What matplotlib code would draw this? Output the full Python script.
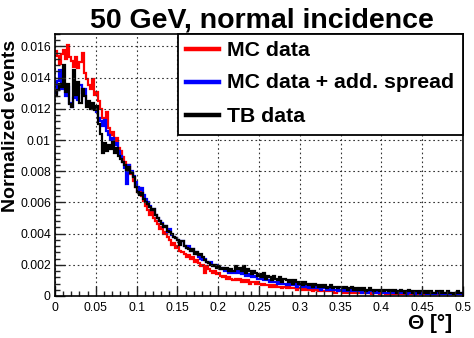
import numpy as np
import matplotlib
matplotlib.use("Agg")
import matplotlib.pyplot as plt
from matplotlib.patches import Rectangle
from matplotlib.lines import Line2D
from matplotlib.ticker import MultipleLocator

# Normalized polar-angle distributions, 200 bins over 0 < theta < 0.5 deg
theta_range = (0.0, 0.5)

mc_data = [
    0.0157, 0.0154, 0.0149, 0.0155, 0.0158, 0.0152, 0.0161, 0.0153, 0.0151, 0.0147,
    0.0153, 0.0146, 0.0150, 0.0156, 0.0143, 0.0139, 0.0135, 0.0133, 0.0139, 0.0129,
    0.0131, 0.0125, 0.0120, 0.0114, 0.0110, 0.0118, 0.0108, 0.0103, 0.0105, 0.0099,
    0.0101, 0.0095, 0.0093, 0.0089, 0.0086, 0.0082, 0.0084, 0.0078, 0.0074, 0.0070,
    0.0067, 0.0069, 0.0064, 0.0061, 0.0058, 0.0055, 0.0052, 0.0054, 0.0050, 0.0048,
    0.0046, 0.0043, 0.0044, 0.0040, 0.0041, 0.0038, 0.0036, 0.0033, 0.0034, 0.0031,
    0.0032, 0.0029, 0.0028, 0.0027, 0.0025, 0.0026, 0.0024, 0.0025, 0.0022, 0.0023,
    0.0021, 0.0019, 0.0020, 0.0015, 0.0019, 0.0017, 0.0016, 0.0015, 0.0016, 0.0014,
    0.0015, 0.0013, 0.0012, 0.0013, 0.0011, 0.0012, 0.0011, 0.0010, 0.0011, 0.0010,
    0.0011, 0.0009, 0.0010, 0.0009, 0.0010, 0.0008, 0.0009, 0.0009, 0.0008, 0.0009,
    0.0008, 0.0007, 0.0008, 0.0007, 0.0007, 0.0006, 0.0007, 0.0006, 0.0007, 0.0006,
    0.0006, 0.0005, 0.0006, 0.0005, 0.0006, 0.0005, 0.0005, 0.0005, 0.0004, 0.0005,
    0.0005, 0.0004, 0.0005, 0.0004, 0.0004, 0.0004, 0.0003, 0.0004, 0.0004, 0.0003,
    0.0004, 0.0003, 0.0003, 0.0003, 0.0004, 0.0003, 0.0003, 0.0002, 0.0003, 0.0003,
    0.0003, 0.0002, 0.0003, 0.0002, 0.0003, 0.0002, 0.0002, 0.0003, 0.0002, 0.0002,
    0.0002, 0.0002, 0.0003, 0.0002, 0.0002, 0.0001, 0.0002, 0.0002, 0.0002, 0.0001,
    0.0002, 0.0002, 0.0001, 0.0002, 0.0001, 0.0002, 0.0001, 0.0001, 0.0002, 0.0001,
    0.0001, 0.0002, 0.0001, 0.0001, 0.0001, 0.0002, 0.0001, 0.0001, 0.0001, 0.0001,
    0.0001, 0.0001, 0.0002, 0.0001, 0.0001, 0.0001, 0.0001, 0.0001, 0.0001, 0.0001,
    0.0001, 0.0001, 0.0001, 0.0001, 0.0001, 0.0001, 0.0001, 0.0001, 0.0001, 0.0001,
]

mc_spread = [
    0.0130, 0.0138, 0.0145, 0.0133, 0.0136, 0.0128, 0.0134, 0.0124, 0.0121, 0.0127,
    0.0132, 0.0126, 0.0135, 0.0130, 0.0133, 0.0124, 0.0122, 0.0123, 0.0120, 0.0121,
    0.0118, 0.0114, 0.0112, 0.0109, 0.0113, 0.0106, 0.0103, 0.0100, 0.0101, 0.0097,
    0.0098, 0.0093, 0.0090, 0.0086, 0.0082, 0.0072, 0.0084, 0.0080, 0.0077, 0.0073,
    0.0070, 0.0068, 0.0069, 0.0065, 0.0062, 0.0060, 0.0058, 0.0055, 0.0056, 0.0052,
    0.0050, 0.0048, 0.0047, 0.0044, 0.0045, 0.0041, 0.0043, 0.0039, 0.0038, 0.0037,
    0.0036, 0.0034, 0.0035, 0.0032, 0.0031, 0.0032, 0.0029, 0.0030, 0.0027, 0.0028,
    0.0025, 0.0024, 0.0023, 0.0024, 0.0022, 0.0021, 0.0022, 0.0020, 0.0019, 0.0020,
    0.0018, 0.0017, 0.0018, 0.0016, 0.0017, 0.0015, 0.0016, 0.0015, 0.0016, 0.0015,
    0.0016, 0.0014, 0.0015, 0.0013, 0.0014, 0.0013, 0.0012, 0.0013, 0.0012, 0.0011,
    0.0011, 0.0012, 0.0010, 0.0011, 0.0010, 0.0009, 0.0010, 0.0009, 0.0009, 0.0008,
    0.0009, 0.0008, 0.0008, 0.0007, 0.0008, 0.0007, 0.0007, 0.0008, 0.0006, 0.0007,
    0.0007, 0.0006, 0.0006, 0.0007, 0.0005, 0.0006, 0.0005, 0.0006, 0.0005, 0.0005,
    0.0004, 0.0005, 0.0005, 0.0004, 0.0005, 0.0004, 0.0004, 0.0004, 0.0003, 0.0004,
    0.0004, 0.0003, 0.0004, 0.0003, 0.0004, 0.0003, 0.0003, 0.0004, 0.0003, 0.0003,
    0.0002, 0.0003, 0.0003, 0.0002, 0.0003, 0.0003, 0.0002, 0.0003, 0.0002, 0.0003,
    0.0003, 0.0002, 0.0002, 0.0003, 0.0002, 0.0002, 0.0002, 0.0003, 0.0002, 0.0002,
    0.0002, 0.0002, 0.0001, 0.0002, 0.0002, 0.0002, 0.0001, 0.0002, 0.0002, 0.0001,
    0.0002, 0.0002, 0.0001, 0.0002, 0.0001, 0.0002, 0.0001, 0.0002, 0.0001, 0.0001,
    0.0002, 0.0001, 0.0001, 0.0002, 0.0001, 0.0001, 0.0001, 0.0002, 0.0001, 0.0002,
]

tb_data = [
    0.0128, 0.0132, 0.0136, 0.0134, 0.0148, 0.0131, 0.0136, 0.0123, 0.0121, 0.0145,
    0.0129, 0.0137, 0.0124, 0.0133, 0.0128, 0.0121, 0.0125, 0.0120, 0.0124, 0.0119,
    0.0122, 0.0110, 0.0104, 0.0092, 0.0098, 0.0093, 0.0097, 0.0094, 0.0099, 0.0092,
    0.0095, 0.0090, 0.0088, 0.0086, 0.0084, 0.0081, 0.0083, 0.0079, 0.0076, 0.0070,
    0.0067, 0.0065, 0.0066, 0.0062, 0.0060, 0.0059, 0.0057, 0.0055, 0.0056, 0.0052,
    0.0050, 0.0048, 0.0046, 0.0044, 0.0045, 0.0042, 0.0041, 0.0040, 0.0038, 0.0037,
    0.0036, 0.0033, 0.0035, 0.0032, 0.0031, 0.0030, 0.0029, 0.0030, 0.0027, 0.0028,
    0.0026, 0.0027, 0.0025, 0.0023, 0.0022, 0.0021, 0.0020, 0.0019, 0.0020, 0.0018,
    0.0019, 0.0017, 0.0018, 0.0017, 0.0018, 0.0016, 0.0017, 0.0016, 0.0019, 0.0017,
    0.0018, 0.0016, 0.0019, 0.0015, 0.0017, 0.0016, 0.0014, 0.0016, 0.0015, 0.0013,
    0.0014, 0.0012, 0.0015, 0.0011, 0.0013, 0.0012, 0.0010, 0.0013, 0.0011, 0.0010,
    0.0012, 0.0009, 0.0011, 0.0010, 0.0009, 0.0010, 0.0008, 0.0010, 0.0009, 0.0008,
    0.0009, 0.0007, 0.0009, 0.0008, 0.0007, 0.0008, 0.0006, 0.0008, 0.0007, 0.0006,
    0.0007, 0.0006, 0.0007, 0.0005, 0.0006, 0.0007, 0.0005, 0.0006, 0.0005, 0.0006,
    0.0006, 0.0005, 0.0006, 0.0004, 0.0005, 0.0006, 0.0004, 0.0005, 0.0004, 0.0005,
    0.0004, 0.0005, 0.0003, 0.0004, 0.0005, 0.0004, 0.0003, 0.0004, 0.0004, 0.0003,
    0.0004, 0.0003, 0.0004, 0.0003, 0.0004, 0.0003, 0.0004, 0.0002, 0.0003, 0.0004,
    0.0003, 0.0002, 0.0003, 0.0004, 0.0003, 0.0002, 0.0003, 0.0003, 0.0002, 0.0003,
    0.0003, 0.0002, 0.0003, 0.0002, 0.0003, 0.0002, 0.0002, 0.0003, 0.0002, 0.0003,
    0.0002, 0.0002, 0.0003, 0.0002, 0.0002, 0.0001, 0.0002, 0.0003, 0.0002, 0.0002,
]

series_labels = ["MC data", "MC data + add. spread", "TB data"]
series_colors = ["#ff0000", "#0000ff", "#000000"]

title_text = "50 GeV, normal incidence"
x_title = "\u0398 [\u00b0]"
y_title = "Normalized events"

plt.rcParams["font.family"] = ["Liberation Sans", "DejaVu Sans"]

W, H = 474, 338
fig = plt.figure(figsize=(W / 100, H / 100), dpi=100)
ax = fig.add_axes([55 / W, 1 - 296 / H, (463 - 55) / W, (296 - 34) / H])

for vals, col in zip([mc_data, mc_spread, tb_data], series_colors):
    v = np.asarray(vals, dtype=float)
    edges = np.linspace(theta_range[0], theta_range[1], len(v) + 1)
    ax.stairs(v, edges, color=col, lw=1.6, baseline=None)

ax.set_xlim(0, 0.5)
ax.set_ylim(0, 0.0168)

ax.xaxis.set_major_locator(MultipleLocator(0.05))
ax.xaxis.set_minor_locator(MultipleLocator(0.01))
ax.yaxis.set_major_locator(MultipleLocator(0.002))
ax.yaxis.set_minor_locator(MultipleLocator(0.0004))


def fmt(v, pos):
    return "%g" % round(v, 6)


ax.xaxis.set_major_formatter(plt.FuncFormatter(fmt))
ax.yaxis.set_major_formatter(plt.FuncFormatter(fmt))

ax.tick_params(which="both", direction="in", top=False, right=False,
               labelsize=8.8, width=1.0, colors="#222222", labelcolor="black")
ax.tick_params(which="major", length=7, pad=4)
ax.tick_params(axis="y", which="major", pad=3)
ax.tick_params(which="minor", length=3.5)
ax.grid(True, which="major", linestyle=(0, (1.5, 2.5)), color="#333333", lw=0.8)
for s in ax.spines.values():
    s.set_linewidth(1.2)
    s.set_color("black")


# Legend box drawn in figure pixels
def fx(px):
    return px / W


def fy(py):
    return 1 - py / H


fig.patches.append(Rectangle((fx(178), fy(135)), fx(463) - fx(178), fy(34) - fy(135),
                             transform=fig.transFigure, facecolor="white",
                             edgecolor="black", lw=1.3, zorder=5))
entry_y = [49, 82, 115]
for label, col, yy in zip(series_labels, series_colors, entry_y):
    fig.lines.append(Line2D([fx(186), fx(219)], [fy(yy), fy(yy)], color=col, lw=3.2,
                            transform=fig.transFigure, zorder=6))
    fig.text(fx(227), fy(yy + 1), label, fontsize=15.3, fontweight="bold",
             ha="left", va="center", zorder=7)

fig.text(fx(262), fy(27), title_text, fontsize=20.5, fontweight="bold",
         ha="center", va="baseline")
fig.text(fx(11), fy(40), y_title, fontsize=14, fontweight="bold",
         rotation=90, ha="center", va="top")
fig.text(fx(452), fy(329), x_title, fontsize=15, fontweight="bold",
         ha="right", va="baseline")

fig.savefig("out.png", dpi=100)
